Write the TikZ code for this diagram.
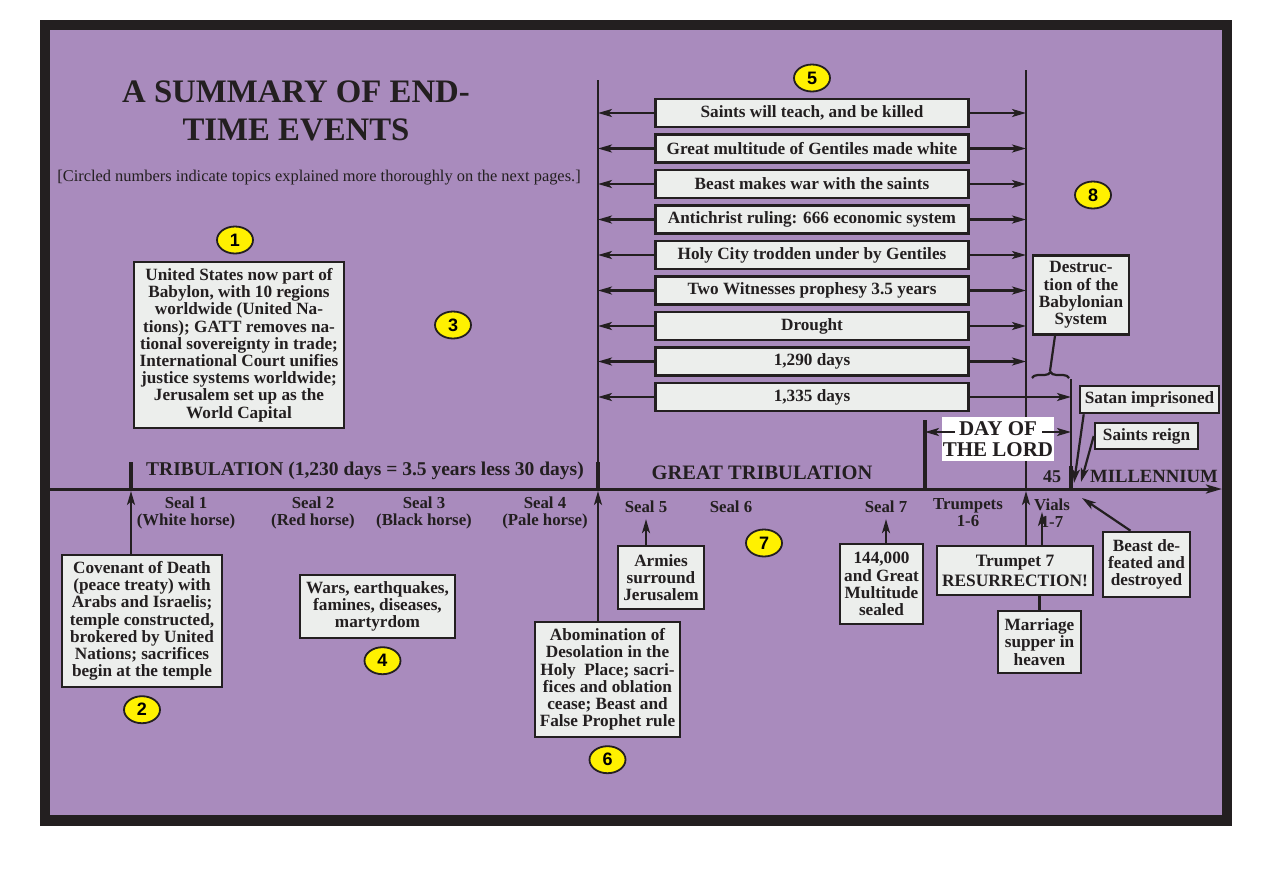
\documentclass[tikz,border=0pt]{standalone}
\usepackage{fontspec}
\setmainfont{Liberation Serif}
\newfontfamily\numfont{Liberation Sans}
\usetikzlibrary{shapes.geometric, arrows.meta, positioning, decorations.pathreplacing}

\definecolor{chartpurple}{RGB}{169,139,189}
\definecolor{boxgray}{RGB}{236,238,236}
\definecolor{numyellow}{RGB}{255,241,0}
\definecolor{inkdark}{RGB}{35,31,32}

\begin{document}
\begin{tikzpicture}[
        x=1pt, y=-1pt,
        box/.style={rectangle, draw=inkdark, line width=2.6pt, fill=boxgray, align=center,
                    inner sep=1pt, text=inkdark, font=\fontsize{17.2}{17.2}\selectfont\bfseries},
        bar/.style={box, minimum width=313pt, minimum height=28pt,
                    font=\fontsize{17.2}{18}\selectfont\bfseries},
        num/.style={ellipse, draw=inkdark, line width=1.8pt, fill=numyellow, inner sep=0pt,
                    minimum width=36pt, minimum height=27pt,
                    font=\numfont\fontsize{18}{18}\selectfont\bfseries},
        lbl/.style={align=center, inner sep=0pt, text=inkdark,
                    font=\fontsize{16.8}{17}\selectfont\bfseries},
        era/.style={inner sep=0pt, text=inkdark, font=\fontsize{20.5}{22}\selectfont\bfseries},
        rule/.style={draw=inkdark, line width=2.2pt},
        arrow/.style={rule, -{Stealth[length=14pt, width=8pt, inset=3.5pt]}},
        tickmark/.style={draw=inkdark, line width=4.5pt},
    ]
        % frame
        \useasboundingbox (0,0) rectangle (1280,868);
        \fill[white] (0,0) rectangle (1280,868);
        \fill[inkdark] (40,20) rectangle (1232,826);
        \fill[chartpurple] (50,30) rectangle (1222,815);

        % heading
        \node[text=inkdark, align=center, font=\fontsize{32.8}{38}\selectfont\bfseries] (title) at (296,111)
            {A SUMMARY OF END-\\TIME EVENTS};
        \node[text=inkdark, font=\fontsize{16.4}{18}\selectfont] (note) at (319,178)
            {[Circled numbers indicate topics explained more thoroughly on the next pages.]};

        % time line
        \coordinate (axL) at (50,489);
        \coordinate (axR) at (1222,489);
        \coordinate (lineL) at (598,80);
        \coordinate (lineR) at (1026,70);
        \coordinate (lineM) at (1071,379);
        \coordinate (tSeal1) at (131,489);
        \coordinate (tGreat) at (598,489);
        \coordinate (tLord) at (925,489);
        \coordinate (tVials) at (1026,489);
        \coordinate (tMill) at (1071,489);
        \draw[rule, line width=3pt, -{Stealth[length=16pt, width=9pt, inset=4pt]}] (axL) -- (axR);
        \draw[rule] (lineL) -- (tGreat);
        \draw[rule] (lineR) -- (tVials);
        \draw[rule] (lineM) -- (tMill);
        \draw[tickmark] (tSeal1) -- ++(0,-27);
        \draw[tickmark] (tGreat) -- ++(0,-27);
        \draw[tickmark] (tLord) -- ++(0,-69);
        \draw[tickmark] (tMill) -- ++(0,-23);

        \node[era, font=\fontsize{19.5}{22}\selectfont\bfseries] (trib) at (365,471)
            {TRIBULATION (1,230 days = 3.5 years less 30 days)};
        \node[era] (great) at (762,473) {GREAT TRIBULATION};
        \node[era, font=\fontsize{18}{20}\selectfont\bfseries] (days45) at (1052,477) {45};
        \node[era, font=\fontsize{18.7}{20}\selectfont\bfseries] (mill) at (1154,476) {MILLENNIUM};

        % parallel events of the great tribulation
        \foreach \txt/\tgt [count=\i] in {
                {Saints will teach, and be killed}/lineR,
                {Great multitude of Gentiles made white}/lineR,
                {Beast makes war with the saints}/lineR,
                {Antichrist ruling: 666 economic system}/lineR,
                {Holy City trodden under by Gentiles}/lineR,
                {Two Witnesses prophesy 3.5 years}/lineR,
                {Drought}/lineR,
                {1,290 days}/lineR,
                {1,335 days}/lineM} {
            \node[bar] (bar\i) at (812, 77.5+35.5*\i) {\txt};
            \draw[arrow] (bar\i.west) -- (bar\i.west -| lineL);
            \draw[arrow] (bar\i.east) -- (bar\i.east -| \tgt);
        }

        % day of the lord
        \node[fill=white, align=center, inner sep=1pt, minimum width=110pt, minimum height=44pt,
              text=inkdark, font=\fontsize{21}{21}\selectfont\bfseries] (lord) at (998,439)
            {DAY OF\\THE LORD};
        \coordinate (lordL) at (955,432);
        \coordinate (lordR) at (1042,432);
        \draw[arrow] (lordL) -- (lordL -| tLord);
        \draw[arrow] (lordR) -- (lordR -| tMill);

        % upper notes
        \node[box, minimum width=210pt, minimum height=166pt] (usa) at (239,345)
            {United States now part of\\Babylon, with 10 regions\\worldwide (United Na-\\tions); GATT removes na-\\tional sovereignty in trade;\\International Court unifies\\justice systems worldwide;\\Jerusalem set up as the\\World Capital};
        \node[box, minimum width=96pt, minimum height=79pt] (babylon) at (1081,295)
            {Destruc-\\tion of the\\Babylonian\\System};
        \draw[rule, decorate, decoration={brace, amplitude=6pt}] (1032,378) -- (1069,378);
        \draw[rule] ([xshift=-26pt]babylon.south) -- (1050,371);
        \node[box, minimum width=139pt, minimum height=27pt] (satan) at (1149.5,399.5) {Satan imprisoned};
        \node[box, minimum width=103pt, minimum height=26pt] (reign) at (1146.5,436) {Saints reign};
        \coordinate (satanEnd) at (1074,483);
        \coordinate (reignEnd) at (1081,482);
        \draw[arrow] ([xshift=5pt]satan.south west) -- (satanEnd);
        \draw[arrow] (reign.west) -- (reignEnd);

        % seal labels
        \node[lbl] (seal1) at (186,513) {Seal 1\\(White horse)};
        \node[lbl] (seal2) at (313,513) {Seal 2\\(Red horse)};
        \node[lbl] (seal3) at (424,513) {Seal 3\\(Black horse)};
        \node[lbl] (seal4) at (545,513) {Seal 4\\(Pale horse)};
        \node[lbl] (seal5) at (646,507) {Seal 5};
        \node[lbl] (seal6) at (731,507) {Seal 6};
        \node[lbl] (seal7) at (886,507) {Seal 7};
        \node[lbl] (trumpets) at (968,513) {Trumpets\\1-6};
        \node[lbl] (vials) at (1052,513) {Vials\\1-7};

        % lower notes
        \node[box, minimum width=160pt, minimum height=132pt] (covenant) at (142,621)
            {Covenant of Death\\(peace treaty) with\\Arabs and Israelis;\\temple constructed,\\brokered by United\\Nations; sacrifices\\begin at the temple};
        \node[box, minimum width=155pt, minimum height=63pt] (wars) at (377.5,606.5)
            {Wars, earthquakes,\\famines, diseases,\\martyrdom};
        \node[box, minimum width=145pt, minimum height=115pt] (abomination) at (607.5,679.5)
            {Abomination of\\Desolation in the\\Holy\ \ Place; sacri-\\fices and oblation\\cease; Beast and\\False Prophet rule};
        \node[box, minimum width=86pt, minimum height=63pt] (armies) at (661,577.5)
            {Armies\\surround\\Jerusalem};
        \node[box, minimum width=83pt, minimum height=80pt] (sealed) at (881.5,584)
            {144,000\\and Great\\Multitude\\sealed};
        \node[box, minimum width=156pt, minimum height=49pt, font=\fontsize{17.4}{20}\selectfont\bfseries]
            (trumpet7) at (1015,570.5) {Trumpet 7\\RESURRECTION!};
        \node[box, minimum width=83pt, minimum height=62pt] (marriage) at (1039.5,642)
            {Marriage\\supper in\\heaven};
        \node[box, minimum width=87pt, minimum height=65pt] (beast) at (1146.5,564.5)
            {Beast de-\\feated and\\destroyed};

        \draw[arrow] (covenant.north -| tSeal1) -- ([yshift=-2pt]tSeal1);
        \draw[arrow] (abomination.north -| tGreat) -- ([yshift=-2pt]tGreat);
        \draw[arrow] (armies.north -| seal5) -- ([yshift=-6pt]seal5.south);
        \draw[arrow] (sealed.north -| seal7) -- ([yshift=-6pt]seal7.south);
        \draw[arrow] (trumpet7.north -| tVials) -- ([yshift=-2pt]tVials);
        \draw[arrow] (trumpet7.north -| 1042,0) -- (1042,512);
        \draw[rule] (marriage.north) -- (marriage.north |- trumpet7.south);
        \draw[arrow] ([xshift=-16pt]beast.north) -- (1082,498);

        % circled numbers
        \node[num] (n1) at (235,240) {1};
        \node[num, below=7pt of covenant] (n2) {2};
        \node[num] (n3) at (453,325) {3};
        \node[num, below=7pt of wars, xshift=5pt] (n4) {4};
        \node[num] (n5) at (812,78) {5};
        \node[num, below=7pt of abomination] (n6) {6};
        \node[num] (n7) at (764,543) {7};
        \node[num] (n8) at (1093,195) {8};
    \end{tikzpicture}
\end{document}
